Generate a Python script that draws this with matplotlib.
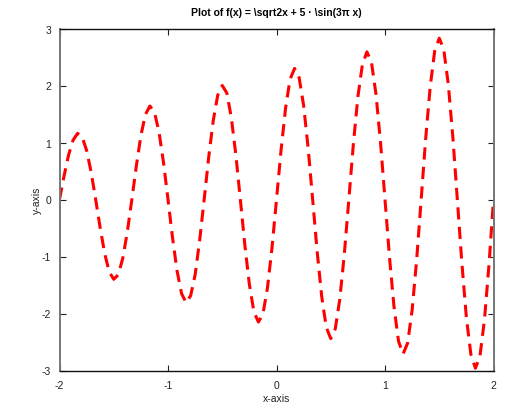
import numpy as np
import matplotlib
matplotlib.use("Agg")
import matplotlib.pyplot as plt

plt.rcParams['font.family'] = ['Liberation Sans', 'DejaVu Sans']

title = "Plot of f(x) = \\sqrt2x + 5 · \\sin(3π x)"
x_label = "x-axis"
y_label = "y-axis"
x_ticks = [-2, -1, 0, 1, 2]
y_ticks = [-3, -2, -1, 0, 1, 2, 3]

x_vals = np.linspace(-2, 2, 97)
y_vals = [
    0.00, 0.41, 0.78, 1.04, 1.16, 1.10, 0.86, 0.48,
    0.00, -0.50, -0.95, -1.27, -1.40, -1.32, -1.03, -0.57,
    0.00, 0.59, 1.12, 1.49, 1.64, 1.53, 1.19, 0.65,
    0.00, -0.67, -1.25, -1.65, -1.81, -1.69, -1.32, -0.72,
    0.00, 0.74, 1.38, 1.83, 2.00, 1.87, 1.44, 0.79,
    0.00, -0.80, -1.49, -1.97, -2.15, -2.01, -1.55, -0.85,
    0.00, 0.86, 1.60, 2.11, 2.30, 2.14, 1.65, 0.90,
    0.00, -0.92, -1.70, -2.24, -2.44, -2.27, -1.75, -0.96,
    0.00, 0.97, 1.80, 2.37, 2.59, 2.41, 1.85, 1.01,
    0.00, -1.02, -1.89, -2.49, -2.71, -2.52, -1.94, -1.06,
    0.00, 1.07, 1.98, 2.61, 2.83, 2.63, 2.02, 1.10,
    0.00, -1.11, -2.07, -2.72, -2.96, -2.75, -2.11, -1.15,
    0.00,
]

fig = plt.figure(figsize=(5.28, 4.06), dpi=100)
ax = fig.add_axes([59.5/528, 1 - 371.5/406, 434/528, 342/406])

ax.plot(x_vals, y_vals, color='#ff0000', linewidth=2.2,
        linestyle=(0, (4, 2.4)), dash_capstyle='butt', solid_capstyle='butt')

ax.set_xlim(-2, 2)
ax.set_ylim(-3, 3)
ax.set_xticks(x_ticks)
ax.set_yticks(y_ticks)
ax.set_xticklabels([str(t) for t in x_ticks])
ax.set_yticklabels([str(t) for t in y_ticks])
ax.tick_params(direction='in', length=4, width=0.8, top=True, right=True,
               labelsize=7.5, colors='#222222')
ax.tick_params(axis='x', pad=7)
ax.tick_params(axis='y', pad=6)

for s in ['top', 'bottom']:
    ax.spines[s].set_color('#111111')
    ax.spines[s].set_linewidth(1.0)
for s in ['left', 'right']:
    ax.spines[s].set_color('#777777')
    ax.spines[s].set_linewidth(1.4)

ax.set_title(title, fontsize=7.5, fontweight='bold', pad=10)
ax.set_xlabel(x_label, fontsize=7.5, labelpad=2, color='#222222')
ax.set_ylabel(y_label, fontsize=7.5, labelpad=0, color='#222222')

fig.savefig('out.png', dpi=100)
